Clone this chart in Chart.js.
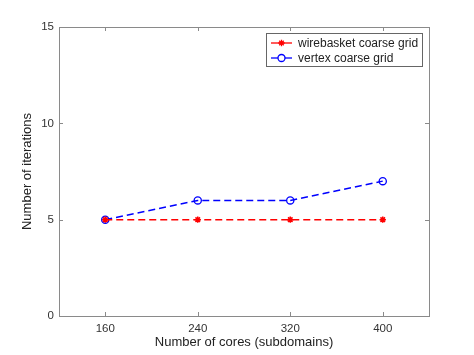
<!DOCTYPE html>
<html><head><meta charset="utf-8">
<script src="https://cdn.jsdelivr.net/npm/chart.js@4/dist/chart.umd.min.js"></script>
<style>html,body{margin:0;padding:0;background:#fff;}canvas{display:block;}</style>
</head><body>
<canvas id="c" width="474" height="355"></canvas>
<script>
const cores = [160, 240, 320, 400];
const wirebasket = [5, 5, 5, 5];
const vertex = [5, 6, 6, 7];
const xTicks = [160, 240, 320, 400];
const yTicks = [0, 5, 10, 15];
const seriesNames = ['wirebasket coarse grid', 'vertex coarse grid'];
const xTitle = 'Number of cores (subdomains)';
const yTitle = 'Number of iterations';

const FONT = 'Liberation Sans, Arial, Helvetica, sans-serif';
const AXIS = '#8a8a8a';

const framePlugin = {
  id: 'frame',
  beforeDatasetsDraw(chart) {
    const {ctx, chartArea: a, scales: {x, y}} = chart;
    ctx.save();
    ctx.strokeStyle = AXIS; ctx.lineWidth = 1;
    ctx.strokeRect(Math.round(a.left) + 0.5, Math.round(a.top) + 0.5, Math.round(a.right - a.left), Math.round(a.bottom - a.top));
    ctx.beginPath();
    const L = 4;
    xTicks.forEach(v => {
      const px = Math.round(x.getPixelForValue(v)) + 0.5;
      ctx.moveTo(px, a.bottom); ctx.lineTo(px, a.bottom - L);
      ctx.moveTo(px, a.top); ctx.lineTo(px, a.top + L);
    });
    yTicks.forEach(v => {
      const py = Math.round(y.getPixelForValue(v)) + 0.5;
      ctx.moveTo(a.left, py); ctx.lineTo(a.left + L, py);
      ctx.moveTo(a.right, py); ctx.lineTo(a.right - L, py);
    });
    ctx.stroke();
    ctx.restore();
  },
  afterDraw(chart) {
    const {ctx} = chart;
    ctx.save();
    const bx = 266.5, by = 33.5, bw = 156, bh = 33;
    ctx.fillStyle = '#fff';
    ctx.fillRect(bx, by, bw, bh);
    ctx.strokeStyle = '#666'; ctx.lineWidth = 1;
    ctx.strokeRect(bx, by, bw, bh);
    ctx.font = '12px ' + FONT;
    ctx.textBaseline = 'middle';
    chart.data.datasets.forEach((ds, i) => {
      const cy = 43 + i * 15;
      ctx.strokeStyle = ds.borderColor; ctx.lineWidth = 1.3; ctx.setLineDash([]);
      ctx.beginPath(); ctx.moveTo(271, cy); ctx.lineTo(292, cy); ctx.stroke();
      const cx = 281.5;
      ctx.beginPath();
      if (ds.pointStyle === 'circle') {
        ctx.fillStyle = '#fff';
        ctx.arc(cx, cy, 3.5, 0, Math.PI * 2); ctx.fill(); ctx.stroke();
      } else {
        const r = 3.2;
        ctx.moveTo(cx - r, cy); ctx.lineTo(cx + r, cy);
        ctx.moveTo(cx, cy - r); ctx.lineTo(cx, cy + r);
        const d = r * 0.707;
        ctx.moveTo(cx - d, cy - d); ctx.lineTo(cx + d, cy + d);
        ctx.moveTo(cx - d, cy + d); ctx.lineTo(cx + d, cy - d);
        ctx.stroke();
      }
      ctx.fillStyle = '#222';
      ctx.fillText(ds.label, 298, cy + 0.5);
    });
    ctx.restore();
  }
};

new Chart(document.getElementById('c'), {
  type: 'line',
  data: {
    datasets: [
      {
        label: seriesNames[0],
        data: cores.map((c, i) => ({x: c, y: wirebasket[i]})),
        borderColor: '#ff0000', backgroundColor: '#ff0000',
        borderWidth: 1.5, borderDash: [7, 4],
        pointStyle: 'star', pointRadius: 3.2, pointBorderWidth: 1.5,
        pointBorderColor: '#ff0000', tension: 0
      },
      {
        label: seriesNames[1],
        data: cores.map((c, i) => ({x: c, y: vertex[i]})),
        borderColor: '#0000ff', backgroundColor: 'rgba(0,0,0,0)',
        borderWidth: 1.5, borderDash: [7, 4],
        pointStyle: 'circle', pointRadius: 3.6, pointBorderWidth: 1.3,
        pointBackgroundColor: 'rgba(0,0,0,0)', pointBorderColor: '#0000ff', tension: 0
      }
    ]
  },
  options: {
    responsive: false, animation: false, devicePixelRatio: 1,
    layout: {padding: {top: 27, right: 45, left: 0, bottom: 0}},
    plugins: {legend: {display: false}, tooltip: {enabled: false}},
    scales: {
      x: {
        type: 'linear', min: 120, max: 440,
        afterBuildTicks: s => { s.ticks = xTicks.map(v => ({value: v})); },
        afterFit: s => { s.height = 39; },
        grid: {display: false, drawTicks: false},
        border: {display: false},
        ticks: {padding: 6, color: '#333', font: {family: FONT, size: 11.5}, maxRotation: 0, autoSkip: false},
        title: {display: true, text: xTitle, color: '#222', font: {family: FONT, size: 13}, padding: {top: 0, bottom: 5}}
      },
      y: {
        type: 'linear', min: 0, max: 15,
        afterBuildTicks: s => { s.ticks = yTicks.map(v => ({value: v})); },
        afterFit: s => { s.width = 59; },
        grid: {display: false, drawTicks: false},
        border: {display: false},
        ticks: {padding: 5, color: '#333', font: {family: FONT, size: 11.5}},
        title: {display: true, text: yTitle, color: '#222', font: {family: FONT, size: 13}, padding: {top: 20, bottom: 0}}
      }
    }
  },
  plugins: [framePlugin]
});
</script>
</body></html>
